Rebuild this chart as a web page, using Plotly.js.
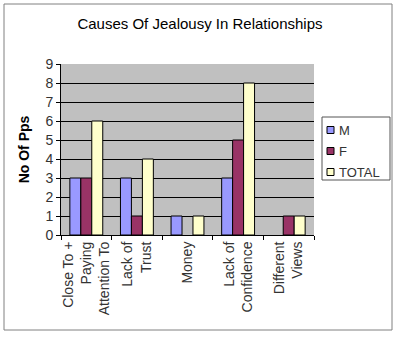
<!DOCTYPE html>
<html><head><meta charset="utf-8">
<script src="https://cdn.plot.ly/plotly-3.0.1.min.js"></script>
<style>html,body{margin:0;padding:0;background:#fff}#c{width:400px;height:337px}</style>
</head><body><div id="c"></div>
<script>
const categories = ["Close To +<br>Paying<br>Attention To", "Lack of<br>Trust", "Money", "Lack of<br>Confidence", "Different<br>Views"];
const maleValues = [3, 3, 1, 3, 0];
const femaleValues = [3, 1, 0, 5, 1];
const totalValues = [6, 4, 1, 8, 1];
const seriesNames = ["M", "F", "TOTAL"];
const seriesColors = ["#9999FF", "#993366", "#FFFFCC"];
const yTicks = [0,1,2,3,4,5,6,7,8,9];

const fontFam = "Liberation Sans, Arial, sans-serif";
const seriesValues = [maleValues, femaleValues, totalValues];
const data = seriesNames.map((n, i) => ({
  type: "bar", name: n, x: categories, y: seriesValues[i],
  marker: {color: seriesColors[i], line: {color: "#000", width: seriesValues[i].map(v => v ? 1 : 0)}},
  hoverinfo: "none", showlegend: false
}));

// plot area geometry (pixels)
const L = 61, R = 314, T = 64, B = 235;
const W = R - L, H = B - T;
const px = x => (x - L) / W;
const py = y => (B - y) / H;

const shapes = [
  {type: "rect", xref: "paper", yref: "paper", x0: px(4), x1: px(392), y0: py(330), y1: py(4),
   line: {color: "#808080", width: 1}, fillcolor: "rgba(0,0,0,0)", layer: "below"},
  {type: "rect", xref: "paper", yref: "paper", x0: px(322), x1: px(390), y0: py(180), y1: py(117),
   line: {color: "#555", width: 1}, fillcolor: "#fff", layer: "above"}
];
const annotations = [];
seriesNames.forEach((n, i) => {
  const cy = 130 + i * 21;
  shapes.push({type: "rect", xref: "paper", yref: "paper", x0: px(327), x1: px(334), y0: py(cy + 3.5), y1: py(cy - 3.5),
               line: {color: "#000", width: 1}, fillcolor: seriesColors[i], layer: "above"});
  annotations.push({xref: "paper", yref: "paper", x: px(337), y: py(cy), xanchor: "left", yanchor: "middle",
                    text: n, showarrow: false, font: {size: 13, color: "#333", family: fontFam}});
});

const layout = {
  width: 400, height: 337,
  margin: {l: L, r: 400 - R, t: T, b: 337 - B},
  paper_bgcolor: "#fff", plot_bgcolor: "#C0C0C0",
  barmode: "group", bargap: 0.35, bargroupgap: 0,
  font: {family: fontFam, color: "#000", size: 12},
  showlegend: false,
  title: {text: "Causes Of Jealousy In Relationships", font: {size: 15, family: fontFam, color: "#000"},
          x: 0.5, xanchor: "center", y: 1 - 24/337, yanchor: "middle"},
  xaxis: {tickangle: -90, ticks: "outside", tickson: "boundaries", ticklen: 4, tickcolor: "#000",
          showline: true, linecolor: "#000", linewidth: 1, tickfont: {size: 14, color: "#333"},
          showgrid: false, fixedrange: true, automargin: false},
  yaxis: {range: [0, 9], tickvals: yTicks, ticks: "outside", ticklen: 4, tickcolor: "#000",
          showline: true, linecolor: "#000", linewidth: 1, showgrid: true, gridcolor: "#000", gridwidth: 1,
          tickfont: {size: 14, color: "#333"}, zeroline: false, fixedrange: true, automargin: false,
          title: {text: "<b>No Of Pps</b>", font: {size: 14, family: fontFam, color: "#000"}, standoff: 12}},
  shapes: shapes,
  annotations: annotations
};
Plotly.newPlot("c", data, layout, {staticPlot: true, displayModeBar: false});
</script></body></html>
